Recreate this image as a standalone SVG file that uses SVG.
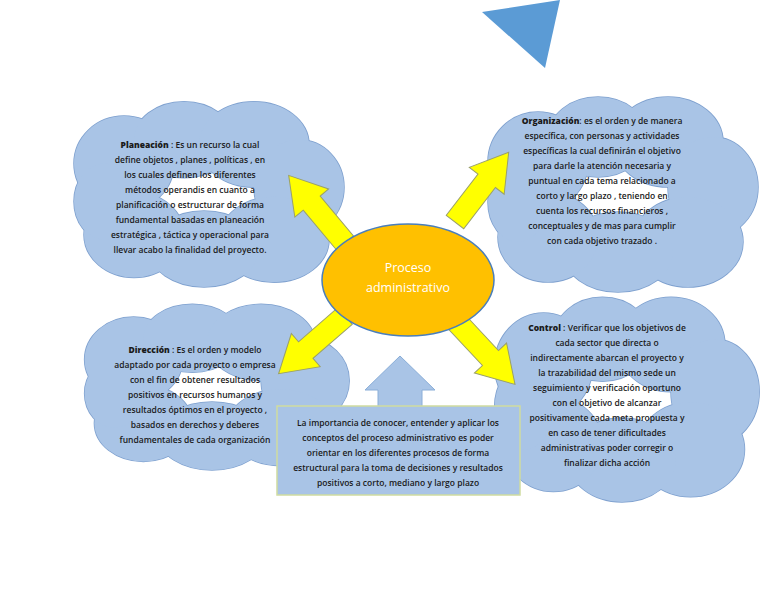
<svg xmlns="http://www.w3.org/2000/svg" width="768" height="594" viewBox="0 0 768 594">
<style>
.cs{fill:#a9c4e6;stroke:#7fa1cf;stroke-width:1.5}
.cf{fill:#a9c4e6}
.t{font-family:"Open Sans","Liberation Sans",sans-serif;font-size:8.5px;fill:#1a1a1a;text-anchor:middle;font-weight:600}
.b{font-weight:800}
.ar{fill:#ffff00;stroke:#9aa06a;stroke-width:1}
</style>
<defs>
<g id="cloud">
<ellipse cx="-80" cy="-30" rx="50" ry="50"/><ellipse cx="-20" cy="-55" rx="50" ry="40"/><ellipse cx="50" cy="-50" rx="55" ry="45"/><ellipse cx="95" cy="-5" rx="45" ry="50"/><ellipse cx="70" cy="50" rx="55" ry="45"/><ellipse cx="0" cy="60" rx="55" ry="40"/><ellipse cx="-70" cy="45" rx="50" ry="45"/><ellipse cx="-100" cy="10" rx="30" ry="40"/>
</g>
<polygon id="arr" points="0,-11 52,-11 52,-22 88,0 52,22 52,11 0,11"/>
</defs>
<rect width="768" height="594" fill="#fff"/>
<polygon points="482,12 560,0 545,68" fill="#5b9bd5"/>
<g id="n-planeacion">
<use href="#cloud" class="cs" transform="translate(204,192) scale(1.0,0.95)"/>
<use href="#cloud" class="cf" transform="translate(204,192) scale(1.0,0.95)"/>
<text class="t" x="190" y="148"><tspan class="b">Planeación</tspan> : Es un recurso la cual</text>
<text class="t" x="190" y="163">define objetos , planes , políticas , en</text>
<text class="t" x="190" y="178">los cuales definen los diferentes</text>
<text class="t" x="190" y="193">métodos operandis en cuanto a</text>
<text class="t" x="190" y="208">planificación o estructurar de forma</text>
<text class="t" x="190" y="223">fundamental basadas en planeación</text>
<text class="t" x="190" y="238">estratégica , táctica y operacional para</text>
<text class="t" x="190" y="253">llevar acabo la finalidad del proyecto.</text>
</g>
<g id="n-organizacion">
<use href="#cloud" class="cs" transform="translate(618,192) scale(1.0,1.0)"/>
<use href="#cloud" class="cf" transform="translate(618,192) scale(1.0,1.0)"/>
<text class="t" x="602" y="124"><tspan class="b">Organización</tspan>: es el orden y de manera</text>
<text class="t" x="602" y="139">específica, con personas y actividades</text>
<text class="t" x="602" y="154">específicas la cual definirán el objetivo</text>
<text class="t" x="602" y="169">para darle la atención necesaria y</text>
<text class="t" x="602" y="184">puntual en cada tema relacionado a</text>
<text class="t" x="602" y="199">corto y largo plazo , teniendo en</text>
<text class="t" x="602" y="214">cuenta los recursos financieros ,</text>
<text class="t" x="602" y="229">conceptuales y de mas para cumplir</text>
<text class="t" x="602" y="244">con cada objetivo trazado .</text>
</g>
<g id="n-direccion">
<use href="#cloud" class="cs" transform="translate(212,385) scale(0.98,0.85)"/>
<use href="#cloud" class="cf" transform="translate(212,385) scale(0.98,0.85)"/>
<text class="t" x="195" y="353"><tspan class="b">Dirección</tspan> : Es el orden y modelo</text>
<text class="t" x="195" y="368">adaptado por cada proyecto o empresa</text>
<text class="t" x="195" y="383">con el fin de obtener resultados</text>
<text class="t" x="195" y="398">positivos en recursos humanos y</text>
<text class="t" x="195" y="413">resultados óptimos en el  proyecto ,</text>
<text class="t" x="195" y="428">basados en derechos y deberes</text>
<text class="t" x="195" y="443">fundamentales de cada organización</text>
</g>
<g id="n-control">
<use href="#cloud" class="cs" transform="translate(622,397) scale(0.98,1.05)"/>
<use href="#cloud" class="cf" transform="translate(622,397) scale(0.98,1.05)"/>
<text class="t" x="607" y="331"><tspan class="b">Control</tspan> : Verificar que los objetivos de</text>
<text class="t" x="607" y="346">cada sector que directa o</text>
<text class="t" x="607" y="361">indirectamente abarcan el proyecto y</text>
<text class="t" x="607" y="376">la trazabilidad del mismo sede un</text>
<text class="t" x="607" y="391">seguimiento y verificación oportuno</text>
<text class="t" x="607" y="406">con el objetivo de alcanzar</text>
<text class="t" x="607" y="421">positivamente cada meta propuesta y</text>
<text class="t" x="607" y="436">en caso de tener dificultades</text>
<text class="t" x="607" y="451">administrativas poder corregir o</text>
<text class="t" x="607" y="466">finalizar dicha acción</text>
</g>
<g id="connectors">
<use href="#arr" class="ar" transform="translate(345,243) rotate(-129.8)"/>
<use href="#arr" class="ar" transform="translate(455,222) rotate(-52.4)"/>
<use href="#arr" class="ar" transform="translate(345,316) rotate(139)"/>
<use href="#arr" class="ar" transform="translate(455,320) rotate(47)"/>
<polygon points="378,410 378,390 365,390 400,356 435,390 422,390 422,410" fill="#a9c4e6" stroke="#8aaed8" stroke-width="1"/>
</g>
<g id="n-proceso">
<ellipse cx="408" cy="280" rx="86" ry="56" fill="#ffc000" stroke="#4a7ebb" stroke-width="1.5"/>
<text x="408" y="272" font-family="'Open Sans','Liberation Sans',sans-serif" font-size="12.5" fill="#fff" text-anchor="middle">Proceso</text>
<text x="408" y="292" font-family="'Open Sans','Liberation Sans',sans-serif" font-size="12.5" fill="#fff" text-anchor="middle">administrativo</text>
</g>
<g id="n-importancia">
<rect x="277" y="406" width="243" height="89" fill="#a9c4e6" stroke="#cfdca0" stroke-width="1.5"/>
<text class="t" x="398" y="426">La importancia de conocer, entender y aplicar los</text>
<text class="t" x="398" y="441">conceptos del proceso administrativo es poder</text>
<text class="t" x="398" y="456">orientar en los diferentes procesos de forma</text>
<text class="t" x="398" y="471">estructural para la toma de decisiones y resultados</text>
<text class="t" x="398" y="486">positivos a corto, mediano y largo plazo</text>
</g>
</svg>
